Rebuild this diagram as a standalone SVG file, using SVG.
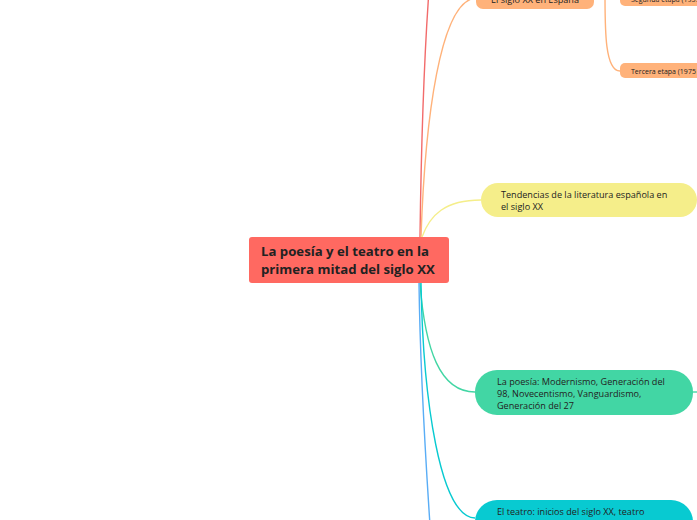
<svg xmlns="http://www.w3.org/2000/svg" width="697" height="520" viewBox="0 0 697 520">
<style>
.t{font-family:"Open Sans","Noto Sans","Liberation Sans",sans-serif;fill:#222}
.title{font-size:13.2px;font-weight:bold}
.n{font-size:9.1px}
.s{font-size:7px}
.c{fill:none;stroke-width:1.4}
</style>
<rect width="697" height="520" fill="#fff"/>
<g id="connectors">
<path class="c" stroke="#f26b6b" d="M420,237 C421,160 424,60 429,-10"/>
<path class="c" stroke="#ffb27a" d="M421,237 C425,120 440,0 476,-2"/>
<path class="c" stroke="#ffb27a" stroke-width="1" d="M605,-5 C605,30 605,71 620,71"/>
<path class="c" stroke="#f5ee8a" d="M422,237 C430,215 445,200 481,200"/>
<path class="c" stroke="#42d6a4" d="M420,283 C425,350 440,392 475,392"/>
<path class="c" stroke="#42d6a4" d="M693,392 L697,392"/>
<path class="c" stroke="#59adf6" d="M419,283 C420,360 425,450 430,525"/>
<path class="c" stroke="#08cad1" d="M421,283 C423,400 440,517 475,518"/>
</g>
<g id="node-siglo">
<rect x="476" y="-20" width="118" height="29" rx="7" fill="#ffb27a"/>
<text class="t n" x="535" y="3" text-anchor="middle">El siglo XX en España</text>
</g>
<g id="node-segunda">
<rect x="620" y="-10" width="90" height="16" rx="5" fill="#ffb27a"/>
<text class="t s" x="631" y="2">Segunda etapa (1939</text>
</g>
<g id="node-tercera">
<rect x="620" y="63" width="90" height="15" rx="5" fill="#ffb27a"/>
<text class="t s" x="631" y="73.5">Tercera etapa (1975</text>
</g>
<g id="node-tendencias">
<rect x="481" y="183" width="216" height="34" rx="17" fill="#f5ee8a"/>
<text class="t n" x="501" y="198">Tendencias de la literatura española en</text>
<text class="t n" x="501" y="210">el siglo XX</text>
</g>
<g id="node-central">
<rect x="249" y="237" width="200" height="46" rx="3" fill="#ff6961"/>
<text class="t title" x="261" y="256">La poesía y el teatro en la</text>
<text class="t title" x="261" y="274">primera mitad del siglo XX</text>
</g>
<g id="node-poesia">
<rect x="475" y="370" width="218" height="45" rx="22" fill="#42d6a4"/>
<text class="t n" x="497" y="385">La poesía: Modernismo, Generación del</text>
<text class="t n" x="497" y="397">98, Novecentismo, Vanguardismo,</text>
<text class="t n" x="497" y="409">Generación del 27</text>
</g>
<g id="node-teatro">
<rect x="475" y="500" width="218" height="45" rx="22" fill="#08cad1"/>
<text class="t n" x="497" y="515">El teatro: inicios del siglo XX, teatro</text>
</g>
</svg>
